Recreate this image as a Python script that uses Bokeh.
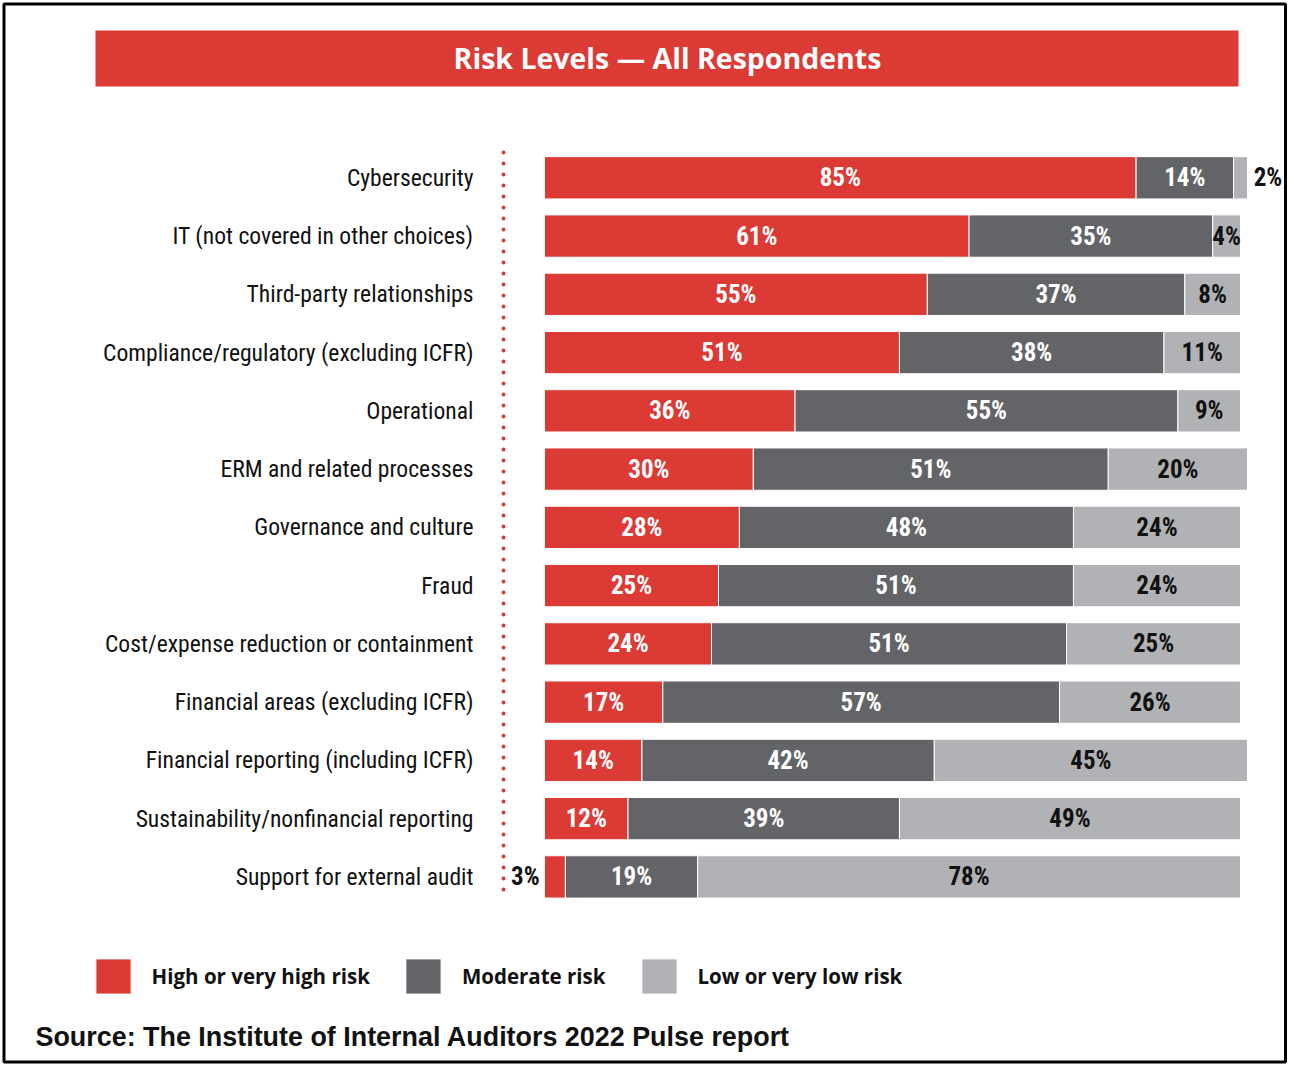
from bokeh.plotting import figure
from bokeh.models import ColumnDataSource, Range1d, BoxAnnotation, Label, Legend
from bokeh.core.properties import value
from bokeh.embed import file_html
from bokeh.resources import INLINE

# ---- data -------------------------------------------------------------
categories = [
    "Cybersecurity",
    "IT (not covered in other choices)",
    "Third-party relationships",
    "Compliance/regulatory (excluding ICFR)",
    "Operational",
    "ERM and related processes",
    "Governance and culture",
    "Fraud",
    "Cost/expense reduction or containment",
    "Financial areas (excluding ICFR)",
    "Financial reporting (including ICFR)",
    "Sustainability/nonfinancial reporting",
    "Support for external audit",
]
high = [85, 61, 55, 51, 36, 30, 28, 25, 24, 17, 14, 12, 3]
moderate = [14, 35, 37, 38, 55, 51, 48, 51, 51, 57, 42, 39, 19]
low = [2, 4, 8, 11, 9, 20, 24, 24, 25, 26, 45, 49, 78]
series_names = ["High or very high risk", "Moderate risk", "Low or very low risk"]

# ---- styling ----------------------------------------------------------
RED = "#DB3A35"
DARK = "#636468"
LIGHT = "#B1B2B5"
INK = "#111111"
COND = "'Liberation Sans Narrow', 'Roboto Condensed', 'Arial Narrow', sans-serif"
HEAD = "Open Sans"
GROT = "Liberation Sans"

W, H = 1290, 1066
X0 = 544          # pixel position of 0 %
PX = 6.96         # pixels per percentage point
ROW0 = 177.3      # pixel centre of the first row (from top)
STEP = 58.26      # pixels between rows


def px_x(px):
    return (px - X0) / PX


def px_y(py):
    return (py - ROW0) / STEP


n = len(categories)
idx = list(range(n))

p = figure(
    width=W, height=H,
    x_range=Range1d(px_x(0), px_x(W)),
    y_range=Range1d(px_y(H), px_y(0)),
    output_backend="svg", toolbar_location=None,
    x_axis_location=None, y_axis_location=None,
    min_border=0, outline_line_color=None,
    background_fill_color="white", border_fill_color="white",
)
p.grid.visible = False

src = ColumnDataSource(dict(y=idx, high=high, moderate=moderate, low=low))
renderers = p.hbar_stack(
    ["high", "moderate", "low"], y="y", height=42.3 / STEP,
    color=[RED, DARK, LIGHT], line_color="white", line_width=1,
    source=src,
)

# ---- segment value labels --------------------------------------------
lx, ly, lt, lc, la = [], [], [], [], []
for i in idx:
    vals = [high[i], moderate[i], low[i]]
    left = 0
    for k, v in enumerate(vals):
        right = left + v
        txt = f"{v}%"
        if v <= 3 and k == 0:
            lx.append(left - 0.7); la.append("right"); lc.append(INK)
        elif v <= 3 and k == 2:
            lx.append(right + 0.9); la.append("left"); lc.append(INK)
        else:
            lx.append((left + right) / 2); la.append("center")
            lc.append(INK if k == 2 else "white")
        ly.append(i); lt.append(txt)
        left = right

p.text(x=lx, y=ly, text=lt, text_color=lc, text_align=la,
       text_baseline="middle", text_font=value(COND),
       text_font_size="25px", text_font_style="bold")

# ---- category labels --------------------------------------------------
p.text(x=[px_x(473)] * n, y=idx, text=categories, text_color=INK,
       text_align="right", text_baseline="middle",
       text_font=value(COND), text_font_size="23.6px")

# dotted divider between labels and bars
p.line(x=[px_x(503)] * 2, y=[px_y(152), px_y(898)], line_color=RED,
       line_width=4, line_dash="0 11", line_cap="round")

# ---- heading banner ---------------------------------------------------
p.add_layout(BoxAnnotation(left=95, right=1238, top=H - 30, bottom=H - 86,
                           left_units="screen", right_units="screen",
                           top_units="screen", bottom_units="screen",
                           fill_color=RED, fill_alpha=1, line_color=None))
p.add_layout(Label(x=667, y=H - 57, x_units="screen", y_units="screen",
                   text="Risk Levels \u2014 All Respondents", text_align="center",
                   text_baseline="middle", text_color="white",
                   text_font=HEAD, text_font_style="bold",
                   text_font_size="28.5px"))

# ---- legend -----------------------------------------------------------
legend = Legend(
    items=[(name, [r]) for name, r in zip(series_names, renderers)],
    location=(90.6, 68.5), orientation="horizontal",
    glyph_width=44, glyph_height=44, label_standoff=17, spacing=31,
    padding=0, margin=0, border_line_color=None, background_fill_alpha=0,
    label_text_font=HEAD, label_text_font_style="bold",
    label_text_font_size="20.5px", label_text_color=INK,
)
p.add_layout(legend)

# ---- source note ------------------------------------------------------
p.add_layout(Label(x=35, y=30, x_units="screen", y_units="screen",
                   text="Source: The Institute of Internal Auditors 2022 Pulse report",
                   text_baseline="middle", text_color=INK, text_font=GROT,
                   text_font_style="bold", text_font_size="26.9px"))

# ---- frame border -----------------------------------------------------
p.add_layout(BoxAnnotation(left=3.5, right=1285, top=H - 3.5, bottom=H - 1061.5,
                           left_units="screen", right_units="screen",
                           top_units="screen", bottom_units="screen",
                           fill_alpha=0, line_color="black", line_alpha=1,
                           line_width=3))

open("out.html", "w").write(file_html(p, INLINE))
